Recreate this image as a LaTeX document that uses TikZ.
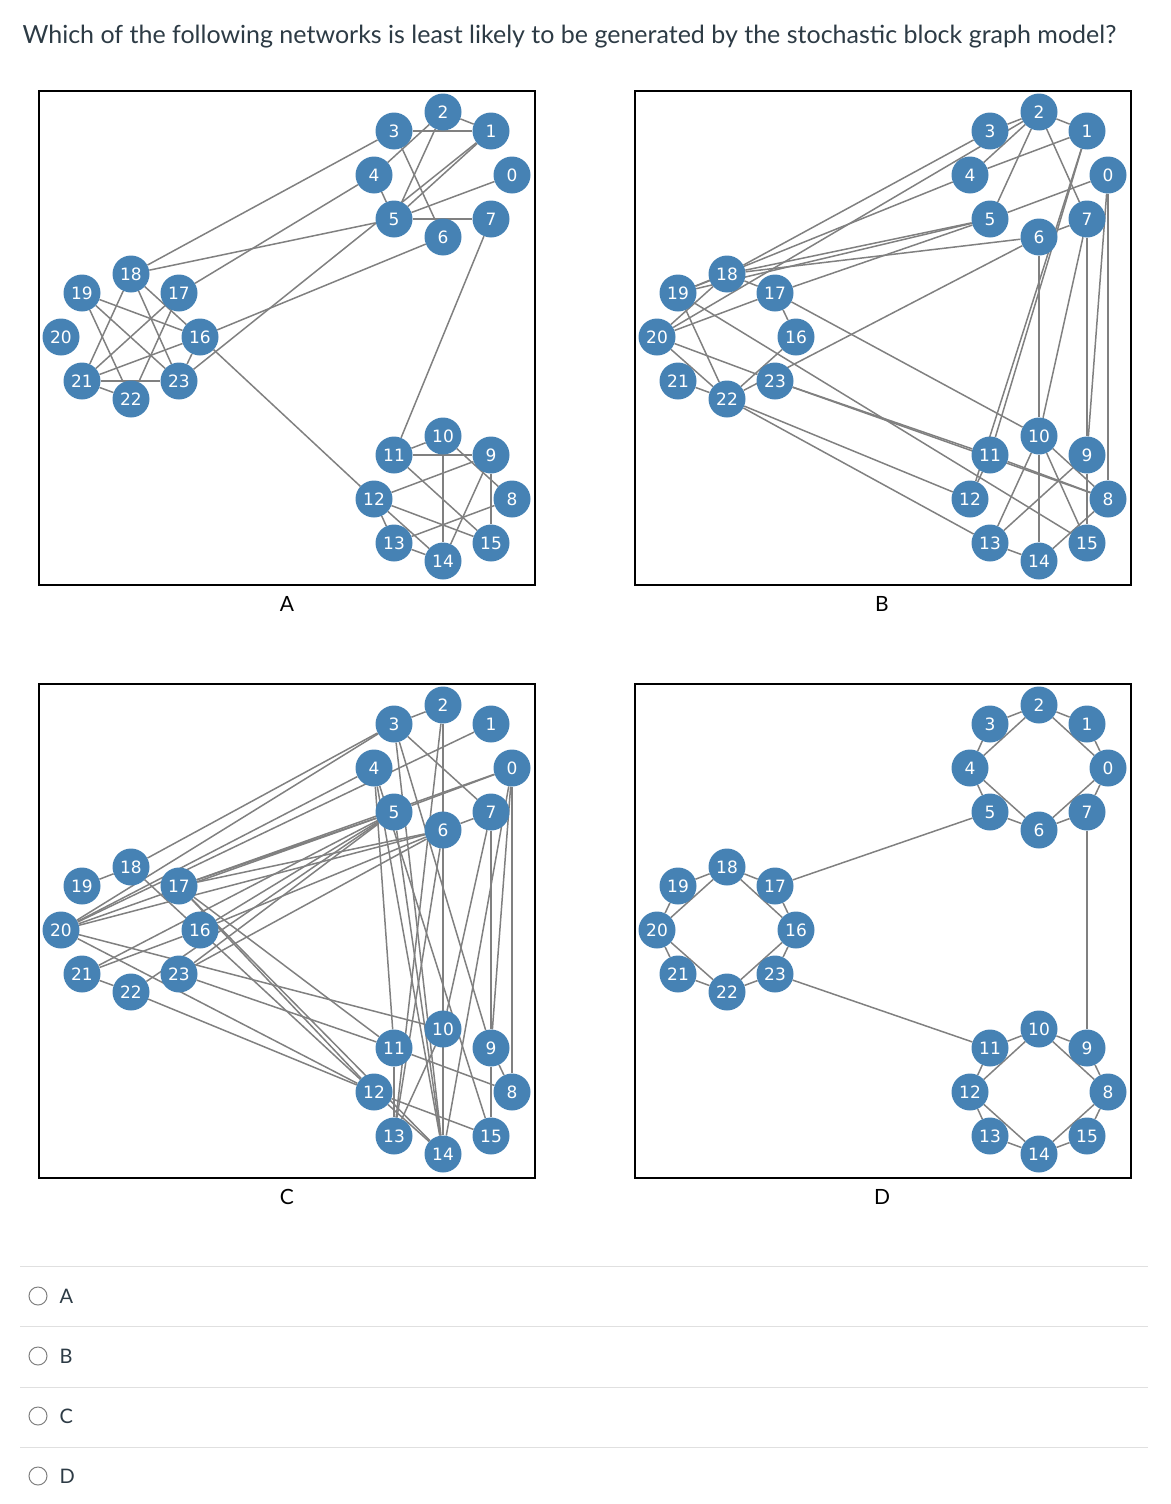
\documentclass[tikz,border=0pt]{standalone}
\usepackage{fontspec}
\setmainfont{Lato}
\newfontfamily\nodefont{DejaVu Sans}
\pgfdeclarelayer{bg}
\pgfsetlayers{bg,main}
\definecolor{nodeblue}{HTML}{4682B4}
\definecolor{edgegray}{HTML}{808080}
\definecolor{txt}{HTML}{2D3B45}
\tikzset{
  gnode/.style={circle,fill=nodeblue,minimum size=37pt,inner sep=0pt,text=white,font=\nodefont\fontsize{17}{18}\selectfont},
  gedge/.style={draw=edgegray,line width=1.5pt},
  frame/.style={draw=black,line width=1.3pt},
  radio/.style={circle,draw=gray,line width=1pt,minimum size=18pt,inner sep=0pt},
  opt/.style={anchor=west,font=\fontsize{20}{22}\selectfont,text=txt},
  plabel/.style={font=\fontsize{21}{24}\selectfont,text=black},
  sep/.style={draw=black!12,line width=0.8pt}
}
\newcommand\graphpanel[4]{%
  \begin{scope}[shift={(#2,#3)}]
  \draw[frame] (39,91) rectangle (535,585);
  \foreach \n/\px/\py in {0/512/175,1/491/131,2/443/112,3/394/131,4/374/175,5/394/219,6/443/237,7/491/219,
     8/512/499,9/491/455,10/443/436,11/394/455,12/374/499,13/394/543,14/443/561,15/491/543,
     16/200/337,17/179/293,18/131/274,19/82/293,20/61/337,21/82/381,22/131/399,23/179/381}
     \node[gnode] (#1\n) at (\px,\py) {\n};
  \begin{pgfonlayer}{bg}
  \foreach \u/\v in {#4} \draw[gedge] (#1\u) -- (#1\v);
  \end{pgfonlayer}
  \end{scope}}
\begin{document}
\begin{tikzpicture}[x=1pt,y=-1pt]
\useasboundingbox (0,0) rectangle (1170,1504);
\node[anchor=west,font=\fontsize{25}{28}\selectfont,text=txt] (title) at (19,37) {Which of the following networks is least likely to be generated by the stochastic block graph model?};
\graphpanel{a}{0}{0}{1/2,1/3,2/4,2/5,3/6,4/5,5/1,23/1,5/0,5/7,5/18,3/18,4/17,6/16,7/11,18/21,18/23,18/16,19/16,19/23,19/22,17/21,17/22,16/21,16/23,21/23,21/22,16/12,11/10,11/9,10/14,10/8,11/15,9/12,9/15,9/14,12/15,12/13,12/14,13/14,13/8}
\graphpanel{b}{596}{0}{2/1,2/3,2/4,2/5,2/7,1/4,1/11,1/12,0/5,0/9,0/8,7/9,7/10,7/6,6/10,6/22,16/17,16/22,17/10,17/20,17/5,19/15,19/22,20/23,20/22,21/22,22/12,22/13,23/11,23/8,11/8,11/12,10/13,10/15,10/14,10/8,9/13,9/15,8/14,13/14,18/3,18/5,18/6,18/19,19/4,20/2,20/18,18/17,19/5}
\graphpanel{c}{0}{593}{19/18,18/3,20/3,20/4,20/1,20/5,20/6,20/10,20/12,23/11,22/12,21/22,21/16,21/5,22/5,23/5,23/6,16/6,16/5,17/5,17/6,17/0,17/12,17/11,18/12,3/2,3/7,3/14,3/9,4/11,4/14,4/15,5/0,5/14,2/14,2/13,6/7,6/13,0/14,0/9,0/8,7/10,7/9,11/8,11/13,12/15,12/14,10/13,9/15,9/8,17/14}
\graphpanel{d}{596}{593}{0/1,1/2,2/3,3/4,4/5,5/6,6/7,7/0,2/4,4/6,6/0,0/2,8/9,9/10,10/11,11/12,12/13,13/14,14/15,15/8,10/12,12/14,14/8,8/10,16/17,17/18,18/19,19/20,20/21,21/22,22/23,23/16,18/20,20/22,22/16,16/18,17/5,23/11,7/9}
\node[plabel] (la) at (287,604) {A};
\node[plabel] (lb) at (882,604) {B};
\node[plabel] (lc) at (287,1197) {C};
\node[plabel] (ld) at (882,1197) {D};
\foreach \y in {1266,1326,1387,1447} \draw[sep] (20,\y) -- (1148,\y);
\foreach \l/\y in {A/1296,B/1356,C/1416,D/1476} {
  \node[radio] (r\l) at (38,\y) {};
  \node[opt] (o\l) at (56,\y) {\l};
}
\end{tikzpicture}
\end{document}
